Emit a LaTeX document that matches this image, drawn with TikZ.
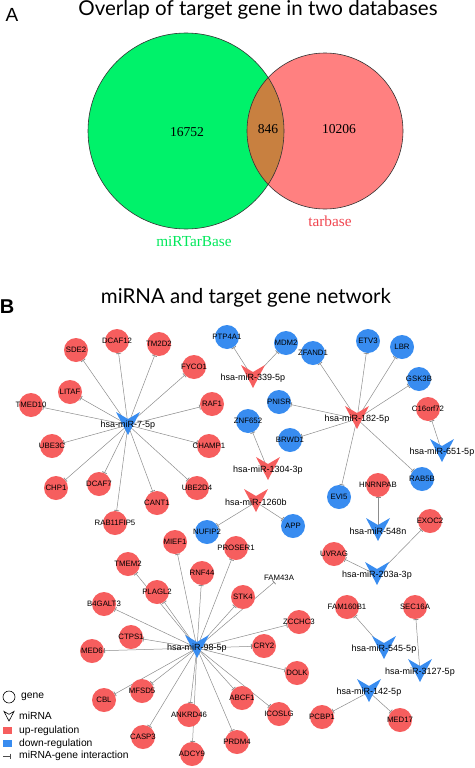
\documentclass[tikz,border=0pt]{standalone}
\usepackage{fontspec}
\setmainfont{Liberation Sans}
\newfontfamily\venfont{Liberation Serif}
\newfontfamily\titlefont{Lato}
\usepackage{xcolor,tikz}
\usetikzlibrary{arrows.meta,positioning}
\pgfdeclarelayer{edges}
\pgfsetlayers{edges,main}
\definecolor{upred}{RGB}{246,94,94}
\definecolor{downblue}{RGB}{56,140,240}
\definecolor{edgegray}{RGB}{140,140,140}
\definecolor{venngreen}{RGB}{0,242,106}
\definecolor{vennred}{RGB}{255,128,128}
\definecolor{vennmix}{RGB}{200,128,64}
\definecolor{mirtargreen}{RGB}{0,232,90}
\definecolor{tarred}{RGB}{240,70,80}
\newcommand\genefont{\fontsize{7.8}{8}\selectfont}
\newcommand\mirfont{\fontsize{9}{10}\selectfont}

\begin{document}
\begin{tikzpicture}[x=1pt,y=-1pt,
  gene/.style={circle,minimum size=24,inner sep=0pt},
  upgene/.style={gene,fill=upred},
  downgene/.style={gene,fill=downblue},
  every label/.style={font=\genefont,inner sep=0pt},
  mirlab/.style={font=\mirfont,inner sep=0pt},
  legtext/.style={anchor=west,font=\fontsize{10.3}{12}\selectfont,inner sep=0pt},
  hit/.style={draw=edgegray,line width=.5pt,-{Bar[width=5pt,line width=.8pt]}},
  vee/.pic={\path[pic actions] (-12,-11) -- (0,-4) -- (12,-11) -- (0,12) -- cycle;}]
\useasboundingbox (0,0) rectangle (474,768);
% A: venn diagram
\node[anchor=base,font=\fontsize{19}{21}\selectfont] (labA) at (12,22) {A};
\node[anchor=base,font=\titlefont\fontsize{20.5}{24}\selectfont] (venntitle) at (258,16) {Overlap of target gene in two databases};
\fill[venngreen] (186,131) circle[radius=98];
\fill[vennred] (325,131) circle[radius=78];
\begin{scope}
\clip (186,131) circle[radius=98];
\fill[vennmix] (325,131) circle[radius=78];
\end{scope}
\draw[line width=.6pt,black!80] (186,131) circle[radius=98];
\draw[line width=.6pt,black!80] (325,131) circle[radius=78];
\node[font=\venfont\fontsize{13.6}{15}\selectfont] (nmir) at (187,132) {16752};
\node[font=\venfont\fontsize{13.6}{15}\selectfont] (nboth) at (268,129) {846};
\node[font=\venfont\fontsize{13.6}{15}\selectfont] (ntar) at (339,129) {10206};
\node[font=\venfont\fontsize{15.3}{17}\selectfont,text=tarred] (tarlab) at (330,221) {tarbase};
\node[font=\venfont\fontsize{15.3}{17}\selectfont,text=mirtargreen] (mirlab) at (194,242) {miRTarBase};
% B: network
\node[anchor=base,font=\bfseries\fontsize{20}{22}\selectfont] (labB) at (7,313) {B};
\node[anchor=base,font=\titlefont\fontsize{20.5}{24}\selectfont] (nettitle) at (246,303) {miRNA and target gene network};
\foreach \n/\x/\y/\t in {sde2/76/350/SDE2,dcaf12/117/341/DCAF12,tm2d2/159/344/TM2D2,
  fyco1/194/367/FYCO1,litaf/70/392/LITAF,tmed10/31/405/TMED10,raf1/212/404/RAF1,
  ube3c/52/446/UBE3C,champ1/209/446/CHAMP1,chp1/56/488/CHP1,dcaf7/99/484/DCAF7,
  ube2d4/197/488/UBE2D4,cant1/157/503/CANT1,rab11fip5/115/523/RAB11FIP5,
  c16orf72/428/409/C16orf72,hnrnpab/378/485/HNRNPAB,exoc2/430/521/EXOC2,
  uvrag/334/554/UVRAG,mief1/175/542/MIEF1,proser1/236/548/PROSER1,tmem2/128/564/TMEM2,
  rnf44/202/573/RNF44,plagl2/157/592/PLAGL2,b4galt3/104/604/B4GALT3,stk4/243/597/STK4,
  fam160b1/347/607/FAM160B1,sec16a/415/607/SEC16A,zcchc3/299/622/ZCCHC3,
  ctps1/131/637/CTPS1,med6/92/651/MED6,cry2/264/646/CRY2,dolk/297/673/DOLK,
  mfsd5/142/691/MFSD5,cbl/104/700/CBL,abcf1/242/698/ABCF1,icoslg/279/714/ICOSLG,
  ankrd46/189/715/ANKRD46,pcbp1/322/717/PCBP1,med17/400/720/MED17,
  casp3/143/737/CASP3,prdm4/237/742/PRDM4,adcy9/192/754/ADCY9}
  \node[upgene,label=center:\t] (\n) at (\x,\y) {};
\foreach \n/\x/\y/\t in {ptp4a1/227/337/PTP4A1,mdm2/286/343/MDM2,zfand1/313/353/ZFAND1,
  etv3/368/341/ETV3,lbr/402/347/LBR,gsk3b/419/379/GSK3B,pnisr/279/402/PNISR,
  znf652/248/421/ZNF652,brwd1/290/440/BRWD1,rab5b/422/479/RAB5B,evi5/339/497/EVI5,
  app/293/526/APP,nufip2/207/532/NUFIP2}
  \node[downgene,label=center:\t] (\n) at (\x,\y) {};
\node[font=\genefont,inner sep=1pt] (fam43a) at (279,578) {FAM43A};
\foreach \n/\x/\y/\c/\t in {m7/128/423/downblue/hsa-miR-7-5p,m339/253/376/upred/hsa-miR-339-5p,
  m182/357/417/upred/hsa-miR-182-5p,m651/442/450/downblue/hsa-miR-651-5p,
  m1304/268/468/upred/hsa-miR-1304-3p,m1260/256/500/upred/hsa-miR-1260b,
  m548/378/529/downblue/hsa-miR-548n,m203/377/573/downblue/hsa-miR-203a-3p,
  m98/197/646/downblue/hsa-miR-98-5p,m545/384/647/downblue/hsa-miR-545-5p,
  m3127/420/670/downblue/hsa-miR-3127-5p,m142/369/690/downblue/hsa-miR-142-5p}
  {\pic[fill=\c] at (\x,\y) {vee};
   \node[mirlab] (\n) at (\x,\y+2) {\t};}
\begin{pgfonlayer}{edges}
\foreach \g in {sde2,dcaf12,tm2d2,fyco1,litaf,tmed10,raf1,ube3c,champ1,chp1,dcaf7,cant1,ube2d4,rab11fip5}
  \draw[hit] (m7.center) -- (\g);
\foreach \g in {ptp4a1,mdm2} \draw[hit] (m339.center) -- (\g);
\foreach \g in {zfand1,etv3,lbr,gsk3b,pnisr,brwd1,evi5,rab5b} \draw[hit] (m182.center) -- (\g);
\draw[hit] (m1304.center) -- (znf652);
\foreach \g in {nufip2,app} \draw[hit] (m1260.center) -- (\g);
\draw[hit] (m651.center) -- (c16orf72);
\draw[hit] (m548.center) -- (hnrnpab);
\foreach \g in {uvrag,exoc2} \draw[hit] (m203.center) -- (\g);
\foreach \g in {mief1,proser1,tmem2,rnf44,plagl2,stk4,fam43a,b4galt3,ctps1,med6,zcchc3,cry2,dolk,
  mfsd5,cbl,ankrd46,casp3,adcy9,abcf1,icoslg,prdm4}
  \draw[hit] (m98.center) -- (\g);
\draw[hit] (m545.center) -- (fam160b1);
\draw[hit] (m3127.center) -- (sec16a);
\foreach \g in {pcbp1,med17} \draw[hit] (m142.center) -- (\g);
\end{pgfonlayer}
% legend
\draw[line width=.6pt] (9,697) circle[radius=6];
\node[legtext] (leggene) at (21,697) {gene};
\pic[draw=black,line width=.6pt,scale=.42] at (9,716) {vee};
\node[legtext] (legmir) at (19,716) {miRNA};
\fill[upred] (3,727) rectangle (12,734);
\node[legtext] (legup) at (19,730.5) {up-regulation};
\fill[downblue] (3,740) rectangle (12,747);
\node[legtext] (legdown) at (19,743.5) {down-regulation};
\coordinate (legfrom) at (3,756);
\coordinate (legto) at (11,756);
\draw[hit,draw=black!70] (legfrom) -- (legto);
\node[legtext] (leghit) at (19,756) {miRNA-gene interaction};
\end{tikzpicture}
\end{document}
